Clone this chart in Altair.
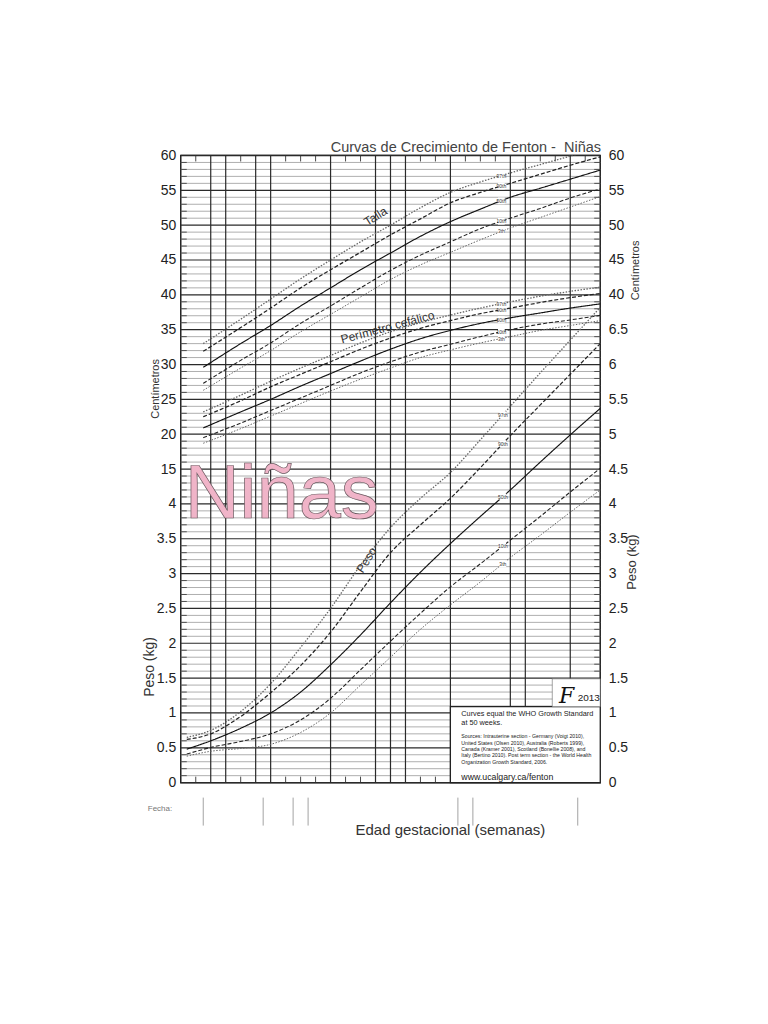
import altair as alt
import pandas as pd
import numpy as np

# ---------------- data ----------------
# Length (Talla), cm
len_weeks = [23.5, 26, 28, 30, 32, 34, 36, 38, 40, 42, 44, 46, 48, 50]
len_p97 = [33.0, 36.5, 39.4, 42.3, 45.0, 47.6, 50.0, 52.5, 54.7, 56.2, 57.5, 58.7, 59.9, 61.0]
len_p90 = [31.9, 35.3, 38.1, 41.0, 43.6, 46.1, 48.6, 50.9, 53.2, 54.7, 56.0, 57.3, 58.6, 59.8]
len_p50 = [29.6, 33.0, 35.6, 38.4, 41.0, 43.6, 46.0, 48.4, 50.5, 52.3, 54.0, 55.3, 56.6, 57.9]
len_p10 = [27.3, 30.6, 33.1, 35.9, 38.4, 41.0, 43.5, 45.7, 47.6, 49.5, 51.0, 52.4, 53.9, 55.2]
len_p3 = [26.3, 29.5, 32.0, 34.7, 37.2, 39.7, 42.2, 44.3, 46.1, 47.9, 49.6, 51.1, 52.6, 54.1]

# Head circumference (Perimetro cefalico), cm
hc_weeks = [23.5, 26, 28, 30, 32, 34, 36, 38, 40, 42, 44, 46, 48, 50]
hc_p97 = [23.2, 25.6, 27.6, 29.5, 31.3, 33.1, 34.7, 36.0, 37.1, 38.1, 39.0, 39.8, 40.5, 41.1]
hc_p90 = [22.5, 24.8, 26.8, 28.6, 30.4, 32.2, 33.8, 35.2, 36.3, 37.3, 38.1, 38.9, 39.6, 40.2]
hc_p50 = [20.9, 23.2, 25.0, 26.9, 28.7, 30.5, 32.2, 33.7, 34.9, 35.9, 36.7, 37.4, 38.1, 38.7]
hc_p10 = [19.5, 21.6, 23.4, 25.2, 27.0, 28.8, 30.4, 31.8, 32.9, 34.0, 35.0, 35.8, 36.4, 37.05]
hc_p3 = [18.7, 20.8, 22.6, 24.4, 26.2, 27.9, 29.5, 31.0, 32.1, 33.1, 34.0, 34.9, 35.6, 36.3]

# Weight (Peso), kg
wt_weeks = [22.4, 24, 26, 28, 30, 32, 34, 36, 38, 40, 42, 44, 46, 48, 50]
wt_p97 = [0.65, 0.75, 1.02, 1.42, 1.94, 2.50, 3.12, 3.66, 4.08, 4.45, 4.92, 5.40, 5.88, 6.35, 6.82]
wt_p90 = [0.62, 0.70, 0.95, 1.29, 1.68, 2.16, 2.74, 3.30, 3.70, 4.08, 4.52, 4.98, 5.42, 5.86, 6.30]
wt_p50 = [0.48, 0.60, 0.78, 1.00, 1.30, 1.69, 2.12, 2.58, 3.02, 3.43, 3.82, 4.20, 4.60, 4.99, 5.37]
wt_p10 = [0.41, 0.505, 0.59, 0.70, 0.90, 1.21, 1.62, 2.03, 2.43, 2.81, 3.14, 3.48, 3.82, 4.17, 4.51]
wt_p3 = [0.38, 0.45, 0.49, 0.55, 0.72, 1.00, 1.40, 1.80, 2.20, 2.55, 2.88, 3.23, 3.55, 3.88, 4.20]

percentiles = ["97", "90", "50", "10", "3"]

# axis tick labels (one per chart row, bottom to top)
left_labels = ["0", "0.5", "1", "1.5", "2", "2.5", "3", "3.5", "4",
               "15", "20", "25", "30", "35", "40", "45", "50", "55", "60"]
right_labels = ["0", "0.5", "1", "1.5", "2", "2.5", "3", "3.5", "4", "4.5", "5", "5.5", "6", "6.5",
                "40", "45", "50", "55", "60"]
x_ticks = [22, 24, 26, 28, 30, 32, 34, 36, 38, 40, 42, 44, 46, 48, 50]
grid_weeks = [24, 25, 27, 28, 32, 35, 36, 37, 40, 44, 45, 48]
fecha_weeks = [23.5, 27.5, 29.5, 30.5, 40.5, 41.5, 48.5]

# ---------------- build tables ----------------
def cm_row(v):
    return (v + 30.0) / 5.0

def kg_row(v):
    return v * 2.0

rows = []
for name, weeks, series, conv in [
    ("Talla", len_weeks, [len_p97, len_p90, len_p50, len_p10, len_p3], cm_row),
    ("PC", hc_weeks, [hc_p97, hc_p90, hc_p50, hc_p10, hc_p3], cm_row),
    ("Peso", wt_weeks, [wt_p97, wt_p90, wt_p50, wt_p10, wt_p3], kg_row),
]:
    for p, vals in zip(percentiles, series):
        for w, v in zip(weeks, vals):
            rows.append({"curve": name, "pct": p, "grp": name + p, "week": w, "slot": conv(v)})
curves = pd.DataFrame(rows)

# percentile labels sitting on the curves
lab_rows = []
for name, weeks, series, conv, wk in [
    ("Talla", len_weeks, [len_p97, len_p90, len_p50, len_p10, len_p3], cm_row, 43.4),
    ("PC", hc_weeks, [hc_p97, hc_p90, hc_p50, hc_p10, hc_p3], cm_row, 43.4),
    ("Peso", wt_weeks, [wt_p97, wt_p90, wt_p50, wt_p10, wt_p3], kg_row, 43.5),
]:
    for p, vals in zip(percentiles, series):
        lab_rows.append({"week": wk, "slot": conv(float(np.interp(wk, weeks, vals))), "text": p + "th"})
pct_labels = pd.DataFrame(lab_rows)

major_rows = pd.DataFrame({"slot": list(range(19))})
minor_rows = pd.DataFrame({"slot": [i / 5 for i in range(91) if i % 5 != 0]})
vgrid = pd.DataFrame({"week": grid_weeks})
wticks = pd.DataFrame({"week": [w for w in range(23, 50) if w not in grid_weeks]})
fecha = pd.DataFrame({"week": fecha_weeks})

W, H = 420, 628
xs = alt.Scale(domain=[22, 50], nice=False, zero=False)
ys = alt.Scale(domain=[0, 18], nice=False, zero=False)
FONT = "Liberation Sans"


def X(axis=None, field="week"):
    return alt.X(f"{field}:Q", scale=xs, axis=axis)


def Y(axis=None, field="slot"):
    return alt.Y(f"{field}:Q", scale=ys, axis=axis)


left_expr = "[" + ",".join(f"'{s}'" for s in left_labels) + "][datum.value]"
right_expr = "[" + ",".join(f"'{s}'" for s in right_labels) + "][datum.value]"

minor = alt.Chart(minor_rows).mark_rule(color="#9a9a9a", strokeWidth=0.8).encode(
    y=Y(), x=alt.value(0), x2=alt.value(W))

major = alt.Chart(major_rows).mark_rule(color="#2a2a2a", strokeWidth=1.2).encode(
    y=Y(alt.Axis(values=list(range(19)), labelExpr=left_expr, orient="left", domain=False,
                 ticks=False, grid=False, labelFont=FONT, labelFontSize=14, labelColor="#222",
                 labelPadding=5, title=None)),
    x=alt.value(0), x2=alt.value(W))

vlines = alt.Chart(vgrid).mark_rule(color="#2a2a2a", strokeWidth=1.2).encode(
    x=X(alt.Axis(values=x_ticks, orient="bottom", domain=False, ticks=False, grid=False,
                 labelFont=FONT, labelFontSize=13, labelColor="#222", labelPadding=3,
                 labelFlush=False, title=None)),
    y=alt.value(0), y2=alt.value(H))

right_axis = alt.Chart(major_rows).mark_rule(opacity=0).encode(
    y=Y(alt.Axis(values=list(range(19)), labelExpr=right_expr, orient="right", domain=False,
                 ticks=False, grid=False, labelFont=FONT, labelFontSize=14, labelColor="#222",
                 labelPadding=8, title=None)),
    x=alt.value(0), x2=alt.value(1))

lt = alt.Chart(minor_rows).mark_rule(color="#333", strokeWidth=0.8).encode(
    y=Y(), x=alt.value(0), x2=alt.value(6))
rt = alt.Chart(minor_rows).mark_rule(color="#333", strokeWidth=0.8).encode(
    y=Y(), x=alt.value(W - 6), x2=alt.value(W))
tt = alt.Chart(wticks).mark_rule(color="#333", strokeWidth=0.9).encode(
    x=X(), y=alt.value(0), y2=alt.value(6))
bt = alt.Chart(wticks).mark_rule(color="#333", strokeWidth=0.9).encode(
    x=X(), y=alt.value(H - 6), y2=alt.value(H))

ninas = alt.Chart(pd.DataFrame({"week": [22.27], "slot": [7.6], "t": ["Niñas"]})).mark_text(
    font=FONT, fontSize=76, align="left", baseline="alphabetic", fill="#f0b4c8",
    stroke="#6a5a60", strokeWidth=0.7).encode(x=X(), y=Y(), text="t:N")

pct_order = ["3", "10", "50", "90", "97"]
lines = alt.Chart(curves).mark_line(clip=True, interpolate="monotone").encode(
    x=X(), y=Y(), detail="grp:N",
    color=alt.Color("pct:N", scale=alt.Scale(domain=pct_order,
                    range=["#666", "#222", "#111", "#222", "#666"]), legend=None),
    strokeDash=alt.StrokeDash("pct:N", scale=alt.Scale(domain=pct_order,
                              range=[[1.5, 1.5], [4, 2], [1, 0], [4, 2], [1.5, 1.5]]), legend=None),
    strokeWidth=alt.StrokeWidth("pct:N", scale=alt.Scale(domain=pct_order,
                                range=[1.0, 1.3, 1.6, 1.3, 1.0]), legend=None),
)

pl_bg = alt.Chart(pct_labels).mark_point(shape="square", filled=True, color="white", opacity=1,
                                         size=45).encode(x=X(), y=Y())
pl = alt.Chart(pct_labels).mark_text(font=FONT, fontSize=5, color="#333").encode(
    x=X(), y=Y(), text="text:N")

names = pd.DataFrame({
    "week": [35.0, 35.8, 34.4],
    "slot": [16.25, 13.07, 6.39],
    "t": ["Talla", "Perímetro cefálico", "Peso"],
    "ang": [328, 345, 302],
})
name_layers = [
    alt.Chart(names.iloc[[i]]).mark_text(font=FONT, fontSize=12, color="#333",
                                          angle=int(names.ang[i])).encode(x=X(), y=Y(), text="t:N")
    for i in range(3)
]

# white info box at lower right
box = alt.Chart(pd.DataFrame({"w1": [40], "w2": [50], "s1": [0], "s2": [2.18]})).mark_rect(
    fill="white", stroke="#222", strokeWidth=1.2).encode(
    x=X(field="w1"), x2="w2:Q", y=Y(field="s1"), y2="s2:Q")
logo_box = alt.Chart(pd.DataFrame({"w1": [46.8], "w2": [50], "s1": [2.18], "s2": [2.98]})).mark_rect(
    fill="white", stroke="#666", strokeWidth=0.6).encode(
    x=X(field="w1"), x2="w2:Q", y=Y(field="s1"), y2="s2:Q")

box_text = pd.DataFrame({
    "week": [40.73, 40.73, 40.73, 40.73, 40.73, 40.73, 40.73, 40.73],
    "slot": [1.92, 1.66, 1.275, 1.09, 0.908, 0.728, 0.545, 0.09],
    "t": ["Curves equal the WHO Growth Standard",
          "at 50 weeks.",
          "Sources: Intrauterine section - Germany (Voigt 2010),",
          "United States (Olsen 2010), Australia (Roberts 1999),",
          "Canada (Kramer 2001), Scotland (Bonellie 2008), and",
          "Italy (Bertino 2010). Post term section - the World Health",
          "Organization Growth Standard, 2006.",
          "www.ucalgary.ca/fenton"],
    "fs": [7.3, 7.3, 5.2, 5.2, 5.2, 5.2, 5.2, 8.8],
})
box_txt = alt.Chart(box_text).mark_text(font=FONT, align="left", baseline="alphabetic",
                                        color="#222").encode(
    x=X(), y=Y(), text="t:N", size=alt.Size("fs:Q", scale=None))

logo_f = alt.Chart(pd.DataFrame({"week": [47.25], "slot": [2.3], "t": ["F"]})).mark_text(
    font="DejaVu Serif", fontStyle="italic", fontSize=22, align="left", baseline="alphabetic",
    color="#111").encode(x=X(), y=Y(), text="t:N")
logo_y = alt.Chart(pd.DataFrame({"week": [48.5], "slot": [2.35], "t": ["2013"]})).mark_text(
    font=FONT, fontSize=10, align="left", baseline="alphabetic", color="#222").encode(
    x=X(), y=Y(), text="t:N")

# texts outside the plot area
outer = pd.DataFrame({
    "week": [50.05, 20.35, 19.95, 52.4, 52.15, 19.8, 40.0],
    "slot": [18.09, 11.3, 3.32, 14.7, 6.33, -0.77, -1.35],
    "t": ["Curvas de Crecimiento de Fenton - \u00a0Niñas", "Centímetros", "Peso (kg)",
          "Centímetros", "Peso (kg)", "Fecha:", "Edad gestacional (semanas)"],
})
title_t = alt.Chart(outer.iloc[[0]]).mark_text(font=FONT, fontSize=14.5, align="right",
                                               baseline="alphabetic", color="#444").encode(
    x=X(), y=Y(), text="t:N")
ttl_left_cm = alt.Chart(outer.iloc[[1]]).mark_text(font=FONT, fontSize=11, angle=270,
                                                   color="#333").encode(x=X(), y=Y(), text="t:N")
ttl_left_kg = alt.Chart(outer.iloc[[2]]).mark_text(font=FONT, fontSize=14, angle=270,
                                                   color="#333").encode(x=X(), y=Y(), text="t:N")
ttl_right_cm = alt.Chart(outer.iloc[[3]]).mark_text(font=FONT, fontSize=11, angle=270,
                                                    color="#333").encode(x=X(), y=Y(), text="t:N")
ttl_right_kg = alt.Chart(outer.iloc[[4]]).mark_text(font=FONT, fontSize=13, angle=270,
                                                    color="#333").encode(x=X(), y=Y(), text="t:N")
fecha_t = alt.Chart(outer.iloc[[5]]).mark_text(font=FONT, fontSize=8, align="left",
                                               color="#777").encode(x=X(), y=Y(), text="t:N")
xt = alt.Chart(outer.iloc[[6]]).mark_text(font=FONT, fontSize=15, color="#333").encode(
    x=X(), y=Y(), text="t:N")
fecha_l = alt.Chart(fecha).mark_rule(color="#999", strokeWidth=0.9).encode(
    x=X(), y=alt.value(H + 15), y2=alt.value(H + 43))

chart = alt.layer(
    minor, major, vlines, lt, rt, tt, bt, ninas, lines, pl_bg, pl, *name_layers,
    box, logo_box, box_txt, logo_f, logo_y,
    title_t, ttl_left_cm, ttl_left_kg, ttl_right_cm, ttl_right_kg, fecha_t, xt, fecha_l,
    right_axis,
).resolve_scale(y="independent").properties(
    width=W, height=H,
    autosize=alt.AutoSizeParams(type="none"),
    padding={"left": 173, "top": 147, "right": 160, "bottom": 230},
).configure_view(stroke="#222", strokeWidth=1.5)

chart.save("out.html", embed_options={"renderer": "svg", "actions": False})
